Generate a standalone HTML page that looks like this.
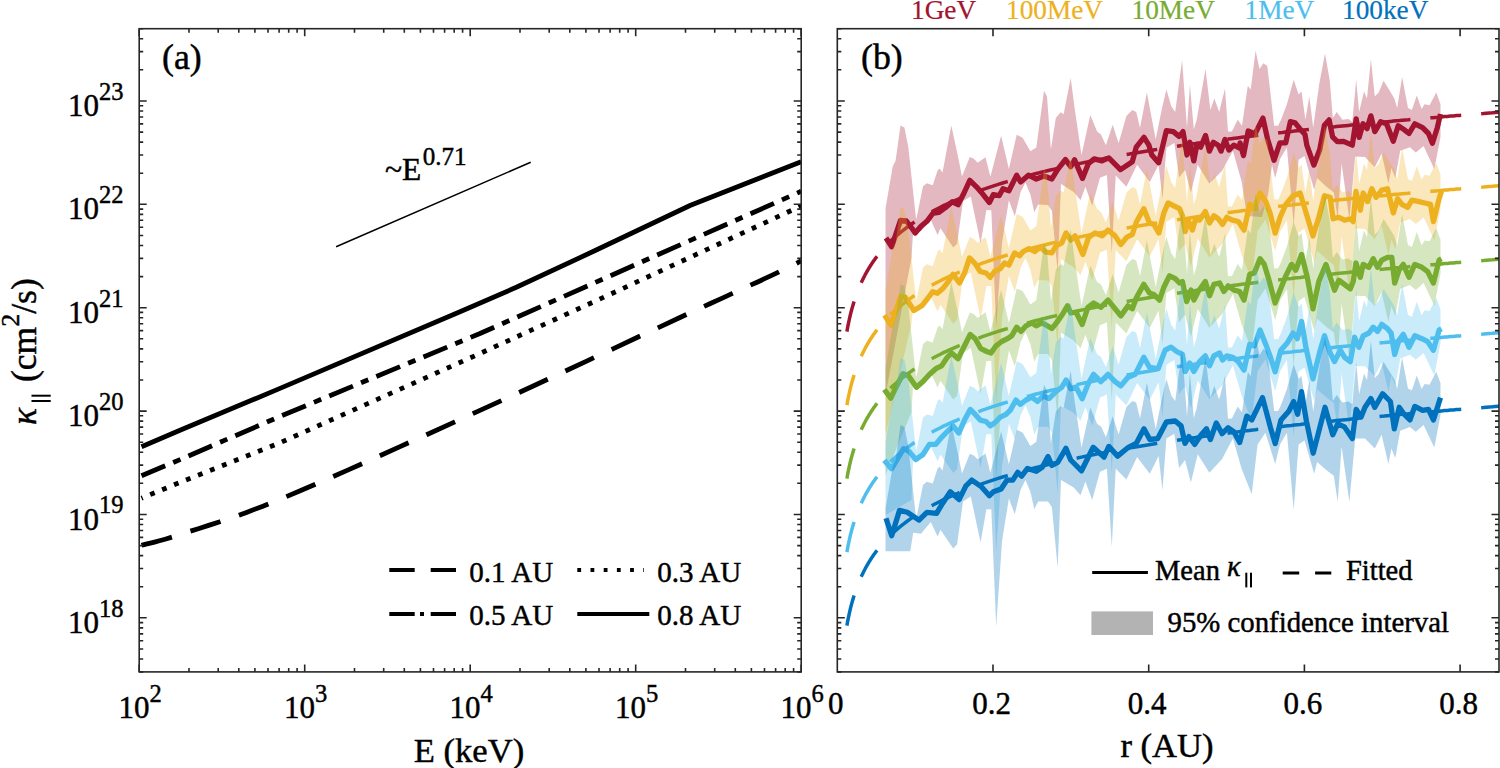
<!DOCTYPE html><html><head><meta charset="utf-8"><style>html,body{margin:0;padding:0;background:#fff;overflow:hidden}svg{display:block}text{font-family:"Liberation Serif",serif;fill:#000;stroke:#000;stroke-width:0.45px}</style></head><body>
<svg width="1500" height="768" viewBox="0 0 1500 768">
<defs><clipPath id="ca"><rect x="139.2" y="28.7" width="662" height="643.2"/></clipPath>
<clipPath id="cb"><rect x="837.3" y="28.7" width="661.7" height="643.2"/></clipPath></defs>
<g clip-path="url(#ca)" fill="none" stroke="#000" stroke-width="4.8">
<polyline points="141.5,446.7 180,430.3 280,388.4 460,311.8 516.9,287 593.6,251.3 690,205.5 801.2,161.7"/>
<polyline points="141.5,475.8 180,459.6 280,416.4 480,333.5 801.2,191.3" stroke-dasharray="25.7 8.7 7.9 8.7"/>
<polyline points="141.5,498.2 180,482.4 280,442.8 480,353.5 609.8,294.5 691.8,256.5 801.2,205.9" stroke-dasharray="4.8 8.1" stroke-dashoffset="3.5"/>
<polyline points="141.5,545.3 144,544.6 147,543.9 150.4,543.1 154.5,542.1 159.4,540.8 165.1,539.2 172,537.1 180,534.5 188.9,531.6 198.3,528.7 208.6,525.4 219.9,521.8 232.5,517.5 246.5,512.4 262.3,506.4 280,499.3 300.2,490.8 323,480.9 347.7,470.1 373.8,458.5 400.6,446.4 427.7,434.2 454.3,422.1 480,410.4 505.8,398.6 532.7,386.2 560.1,373.5 587.2,360.8 613.5,348.6 638.1,337 660.5,326.6 680,317.5 696.4,309.9 710.4,303.5 722.3,298.1 732.5,293.4 741.5,289.3 749.5,285.6 757.1,282.2 764.6,278.7 771.7,275.4 778,272.4 783.4,269.7 788.2,267.4 792.3,265.4 795.7,263.7 798.7,262.2 801.2,261" stroke-dasharray="31.5 19.5"/>
</g>
<line x1="336.1" y1="246.8" x2="530.7" y2="162.2" stroke="#000" stroke-width="1.5"/>
<g clip-path="url(#cb)">
<polygon points="885.5,208.6 892.7,166.6 895.6,160.8 900.5,125.6 904.4,127.6 908.3,147.1 916.1,219.4 917.1,215.5 923,186.2 926.9,183.2 932.7,185.2 937.6,170.5 939.6,168.6 942.5,172.5 951.3,125.6 958.1,156.9 962,176.4 969.8,156.9 973.8,158.8 977.7,162.7 985.5,157.2 990.4,176.7 1001.1,135.7 1008.9,168.9 1016.7,134.7 1022.6,137.7 1030.4,151.3 1036.3,147.4 1044,90.8 1047,96.6 1050.9,149.4 1055.8,118.1 1060.7,112.3 1063.6,114.2 1070.7,77.9 1074.6,108.1 1081.5,155 1090.3,115 1097.1,131.6 1101,134.5 1105.9,145.2 1112.7,124.7 1118.6,143.3 1126.4,115.9 1132.3,110.1 1136.2,112 1140,127.7 1146.9,92.5 1155.7,139.4 1161.6,110.1 1166.4,89.6 1171.3,106.2 1175.2,112 1182.1,60.3 1187,127.7 1189.9,84.7 1193.8,129.6 1196.7,119.8 1205.5,69.1 1210.4,110.1 1214.3,98.4 1219.2,112 1225,88.6 1228,131.6 1231.9,131.6 1237.7,119.8 1242,125.7 1247.8,85.7 1250.7,89.6 1255.6,50.5 1259.5,69.1 1263.4,63.2 1267.3,66.1 1274.2,125.7 1278.1,125.7 1281,119.8 1286.9,104.2 1293.7,79.8 1298.6,94.5 1301.5,91.5 1305.4,119.8 1309.3,96.4 1313.2,127.7 1319.1,84.7 1325,53.4 1329.8,80.8 1332.8,117.9 1336.7,112 1342.5,119.8 1348.4,118.9 1352.3,121.8 1356.2,79.8 1359.1,112 1364,91.5 1367,98.4 1370.9,59.3 1374.8,96.4 1378.7,92.5 1383.6,80.8 1388.4,88.6 1394.3,98.4 1397.2,108.1 1402.1,76.9 1408,108.1 1411.9,110.1 1416.8,95.4 1421.6,109.1 1424.6,104.2 1429.5,105.2 1436.3,92.5 1440.5,104.2 1440.5,137.1 1434.3,169 1423.6,146 1415.8,152.5 1409.9,147.3 1400.2,150.8 1395.3,177.9 1391.4,168 1388.4,183.4 1381.6,153.8 1374.8,167.2 1365,156.9 1355.2,156.5 1349.4,219.7 1341.6,163.6 1337.7,219.2 1333.8,192.6 1325.9,186.3 1317.1,178.1 1314.2,189.7 1304.5,156 1298.6,159.7 1293.7,224.9 1286.9,147.4 1280,158.9 1275.2,178.1 1272,165 1268,195 1262,217 1247,216 1243,190 1241.6,181.4 1232.9,150.8 1222.1,170.8 1209.4,183.8 1197.7,164.7 1190.9,192.7 1185,169.9 1179.1,177.5 1174.3,143.1 1166.4,147.7 1162.5,199.2 1158.6,164.8 1149.8,182 1137.1,164.8 1126.4,186.8 1115.7,175.5 1111.8,253.5 1106.9,175.1 1100,177.7 1092.2,205.7 1085.4,186.8 1080.5,200.2 1073.7,192.1 1061,184.1 1057.7,271.9 1051.9,211 1048,205 1038.2,204.6 1034.3,212.2 1030.4,194.5 1025.5,182.5 1020.6,192 1014.8,216.2 1008.9,200.3 1002.1,241.9 996.2,327.6 991.3,210.2 986.4,209.9 980.6,242.9 970.8,196.5 963,201 957.1,243.8 953.2,247.5 940.5,228.3 937.6,235 930.8,220 921,231.3 913.2,229.9 911.5,258 885.5,395" fill="#A2142F" fill-opacity="0.3"/>
<polyline points="886,238 891.7,246.7 900.5,220.4 906.4,221 911.2,227.2 915.2,233 921,226.2 926.9,221.3 932.7,213.5 938.6,212.5 945.4,207.7 952.3,201.8 958.1,204.7 964,193 969.8,180.3 976.7,187.1 981.6,192.7 989.4,202.5 993.3,194.7 999.1,195.7 1003,188.8 1008.9,190.8 1016.7,175.2 1020.6,182 1028.4,175.2 1036.3,179 1044,176.1 1051.9,179 1057.7,169.3 1065.5,159.5 1070.7,166.7 1074.6,159.9 1082.5,178.4 1088.3,163.8 1094.2,158.9 1102,160.9 1108.8,157.9 1120.5,169.6 1132.3,161.8 1136.2,147.2 1144,137.4 1148.9,145.2 1151.8,155 1158.6,162.8 1166.4,130.6 1173.3,131.6 1179.1,136.4 1183,131.6 1185,143.3 1187,155 1189.9,142.3 1193.8,160.9 1196.7,145.2 1200.6,147.2 1205.5,135.5 1209.4,151.1 1213.3,142.3 1218.2,145.2 1221.1,151.1 1225,139.4 1228.9,150.1 1233.8,145.2 1239.7,148.2 1240,142.8 1243.5,155.6 1248.2,131 1255,134 1262.9,118.1 1267.6,139.2 1274,160.3 1279.9,142.8 1285.7,142.8 1290.4,121.7 1295.1,122.8 1299.8,128.7 1305,134.5 1306.8,145.1 1313.9,165 1319.7,149.8 1324.4,125.2 1329.1,119.9 1332.6,136.9 1337.3,141.6 1343.5,141.3 1352.3,145.2 1356.2,118.9 1359.1,137.4 1363,123.8 1367,128.6 1370.9,115.9 1374.8,131.6 1380.6,121.8 1386.5,123.8 1393.3,141.3 1398.2,125.7 1404.1,129.6 1409,133.5 1414.8,123.8 1422.6,127.7 1428.5,133.5 1432.4,143.3 1437.3,127.7 1440.5,114" fill="none" stroke="#A2142F" stroke-width="5.3" stroke-linejoin="round"/>
<polyline points="846.9,331.6 847.4,328.8 847.9,326.2 848.4,323.7 848.9,321.3 849.4,319 849.9,316.8 850.4,314.7 850.9,312.7 851.4,310.8 851.9,308.9 852.4,307.1 852.9,305.4 853.4,303.7 853.9,302.1 854.4,300.5 854.9,299 855.4,297.5 855.9,296 856.4,294.6 856.9,293.3 857.4,291.9 857.9,290.6 858.4,289.4 858.9,288.1 859.4,286.9 859.9,285.8 860.4,284.6 860.9,283.5 861.4,282.4 861.9,281.3 862.4,280.3 862.9,279.2 863.4,278.2 863.9,277.2 864.4,276.2 864.9,275.3 865.4,274.3 865.9,273.4 866.4,272.5 866.9,271.6 867.4,270.8 867.9,269.9 868.4,269.1 868.9,268.2 869.4,267.4 869.9,266.6 870.4,265.8 870.9,265 871.4,264.3 871.9,263.5 872.4,262.8 872.9,262 873.4,261.3 873.9,260.6 874.4,259.9 874.9,259.2 875.4,258.5 875.9,257.8 876.4,257.2 876.9,256.5 877.4,255.9 877.9,255.2 878.4,254.6 878.9,253.9 879.4,253.3 879.9,252.7 880.4,252.1 883.4,248.6 886.4,245.4 889.4,242.3 892.4,239.4 895.4,236.7 898.4,234.1 901.4,231.6 904.4,229.3 907.4,227 910.4,224.9 913.4,222.8 916.4,220.8 919.4,218.9 922.4,217.1 925.4,215.3 928.4,213.6 931.4,211.9 934.4,210.3 937.4,208.7 940.4,207.2 943.4,205.7 946.4,204.3 949.4,202.9 952.4,201.6 955.4,200.3 958.4,199 961.4,197.7 964.4,196.5 967.4,195.3 970.4,194.1 973.4,193 976.4,191.9 979.4,190.8 982.4,189.7 985.4,188.7 988.4,187.6 991.4,186.6 994.4,185.6 997.4,184.7 1000.4,183.7 1003.4,182.8 1006.4,181.9 1009.4,181 1012.4,180.1 1015.4,179.2 1018.4,178.4 1021.4,177.5 1024.4,176.7 1027.4,175.9 1030.4,175.1 1033.4,174.3 1036.4,173.5 1039.4,172.8 1042.4,172 1045.4,171.3 1048.4,170.5 1051.4,169.8 1054.4,169.1 1057.4,168.4 1060.4,167.7 1063.4,167 1066.4,166.4 1069.4,165.7 1072.4,165 1075.4,164.4 1078.4,163.8 1081.4,163.1 1084.4,162.5 1087.4,161.9 1090.4,161.3 1093.4,160.7 1096.4,160.1 1099.4,159.5 1102.4,158.9 1105.4,158.3 1108.4,157.8 1111.4,157.2 1114.4,156.7 1117.4,156.1 1120.4,155.6 1123.4,155 1126.4,154.5 1129.4,154 1132.4,153.4 1135.4,152.9 1138.4,152.4 1141.4,151.9 1144.4,151.4 1147.4,150.9 1150.4,150.4 1153.4,149.9 1156.4,149.5 1159.4,149 1162.4,148.5 1165.4,148 1168.4,147.6 1171.4,147.1 1174.4,146.7 1177.4,146.2 1180.4,145.7 1183.4,145.3 1186.4,144.9 1189.4,144.4 1192.4,144 1195.4,143.6 1198.4,143.1 1201.4,142.7 1204.4,142.3 1207.4,141.9 1210.4,141.5 1213.4,141.1 1216.4,140.7 1219.4,140.3 1222.4,139.9 1225.4,139.5 1228.4,139.1 1231.4,138.7 1234.4,138.3 1237.4,137.9 1240.4,137.5 1243.4,137.1 1246.4,136.8 1249.4,136.4 1252.4,136 1255.4,135.7 1258.4,135.3 1261.4,134.9 1264.4,134.6 1267.4,134.2 1270.4,133.9 1273.4,133.5 1276.4,133.2 1279.4,132.8 1282.4,132.5 1285.4,132.1 1288.4,131.8 1291.4,131.5 1294.4,131.1 1297.4,130.8 1300.4,130.5 1303.4,130.1 1306.4,129.8 1309.4,129.5 1312.4,129.1 1315.4,128.8 1318.4,128.5 1321.4,128.2 1324.4,127.9 1327.4,127.6 1330.4,127.2 1333.4,126.9 1336.4,126.6 1339.4,126.3 1342.4,126 1345.4,125.7 1348.4,125.4 1351.4,125.1 1354.4,124.8 1357.4,124.5 1360.4,124.2 1363.4,123.9 1366.4,123.7 1369.4,123.4 1372.4,123.1 1375.4,122.8 1378.4,122.5 1381.4,122.2 1384.4,122 1387.4,121.7 1390.4,121.4 1393.4,121.1 1396.4,120.8 1399.4,120.6 1402.4,120.3 1405.4,120 1408.4,119.8 1411.4,119.5 1414.4,119.2 1417.4,119 1420.4,118.7 1423.4,118.4 1426.4,118.2 1429.4,117.9 1432.4,117.7 1435.4,117.4 1438.4,117.2 1441.4,116.9 1444.4,116.6 1447.4,116.4 1450.4,116.1 1453.4,115.9 1456.4,115.6 1459.4,115.4 1462.4,115.2 1465.4,114.9 1468.4,114.7 1471.4,114.4 1474.4,114.2 1477.4,113.9 1480.4,113.7 1483.4,113.5 1486.4,113.2 1489.4,113 1492.4,112.8 1495.4,112.5 1498.4,112.3 1501.4,112.1 1504.4,111.8" fill="none" stroke="#A2142F" stroke-width="3.5" stroke-dasharray="31 20"/>
<polygon points="885.5,290.6 892.7,248.5 895.6,242.6 900.5,207.3 904.4,209.2 908.3,228.6 916.1,300.8 917.1,296.8 923,267.4 926.9,264.3 932.7,266.2 937.6,251.4 939.6,249.5 942.5,253.3 951.3,206.2 958.1,237.4 962,256.8 969.8,237.1 973.8,238.9 977.7,242.8 985.5,237.1 990.4,256.5 1001.1,215.3 1008.9,248.3 1016.7,213.9 1022.6,216.8 1030.4,230.3 1036.3,226.2 1044,169.5 1047,175.2 1050.9,227.9 1055.8,196.5 1060.7,190.6 1063.6,192.5 1070.7,156 1074.6,186.1 1081.5,232.9 1090.3,192.7 1097.1,209.1 1101,212 1105.9,222.6 1112.7,201.9 1118.6,220.4 1126.4,192.8 1132.3,186.9 1136.2,188.7 1140,204.3 1146.9,169 1155.7,215.7 1161.6,186.3 1166.4,165.7 1171.3,182.2 1175.2,187.9 1182.1,136.1 1187,203.3 1189.9,160.3 1193.8,205.1 1196.7,195.2 1205.5,144.4 1210.4,185.3 1214.3,173.5 1219.2,187 1225,163.4 1228,206.4 1231.9,206.3 1237.7,194.4 1242,200.2 1247.8,160.1 1250.7,163.9 1255.6,124.7 1259.5,143.2 1263.4,137.2 1267.3,140.1 1274.2,199.5 1278.1,199.4 1281,193.5 1286.9,177.7 1293.7,153.2 1298.6,167.8 1301.5,164.7 1305.4,192.9 1309.3,169.5 1313.2,200.7 1319.1,157.6 1325,126.1 1329.8,153.4 1332.8,190.5 1336.7,184.5 1342.5,192.2 1348.4,191.1 1352.3,194 1356.2,151.9 1359.1,184 1364,163.4 1367,170.2 1370.9,131.1 1374.8,168.1 1378.7,164.1 1383.6,152.3 1388.4,160 1394.3,169.7 1397.2,179.3 1402.1,148 1408,179.1 1411.9,181 1416.8,166.2 1421.6,179.8 1424.6,174.8 1429.5,175.7 1436.3,162.9 1440.5,174.5 1440.5,208.4 1434.3,240.3 1423.6,217.4 1415.8,224.1 1409.9,218.9 1400.2,222.5 1395.3,249.6 1391.4,239.8 1388.4,255.3 1381.6,225.7 1374.8,239.2 1365,229 1355.2,228.6 1349.4,291.9 1341.6,236 1337.7,291.5 1333.8,265 1325.9,258.8 1317.1,250.7 1314.2,262.3 1304.5,228.7 1298.6,232.5 1293.7,297.7 1286.9,220.3 1280,231.8 1275.2,251.1 1265.4,219.5 1257.6,231 1251.7,280.6 1241.6,254.7 1232.9,224.2 1222.1,244.3 1209.4,257.4 1197.7,238.5 1190.9,266.6 1185,243.8 1179.1,251.5 1174.3,217.2 1166.4,221.8 1162.5,273.3 1158.6,239 1149.8,256.3 1137.1,239.2 1126.4,261.3 1115.7,250.1 1111.8,328.2 1106.9,249.8 1100,252.6 1092.2,280.6 1085.4,261.7 1080.5,275.2 1073.7,267.2 1061,259.3 1057.7,347.1 1051.9,286.3 1048,280.4 1038.2,280 1034.3,287.7 1030.4,270 1025.5,258 1020.6,267.7 1014.8,291.8 1008.9,276 1002.1,317.7 996.2,403.5 991.3,286.1 986.4,285.9 980.6,318.9 970.8,272.6 963,277.3 957.1,320 953.2,323.8 940.5,304.7 937.6,311.4 930.8,296.6 921,307.9 913.2,306.6 911.5,324 885.5,435" fill="#EDB120" fill-opacity="0.3"/>
<polyline points="884.6,315.2 890.9,325.3 900.7,296.4 905.3,297.2 913.9,310.5 921.8,305.8 928,298 932.7,291.7 937.4,293.3 942.8,288.6 948.3,281.6 953,274.4 959.5,283 964.5,273 969.5,257.9 974.5,262.9 980.2,271.5 986,273 990.3,277.3 994.5,271.5 1000.3,268.7 1004.6,262.9 1008.9,265.1 1014.6,252.9 1019.6,255.8 1023.2,251.5 1028.9,248.6 1034.6,251.5 1040.4,247.2 1046.1,252.2 1051.8,252.9 1056.1,245.8 1061.8,242.9 1066.1,232.9 1070.7,240.2 1075,235.9 1082.9,254.5 1088.6,237.3 1095.1,233 1102.2,235.9 1108,230.1 1115.1,235.9 1120.8,244.5 1126.6,237.3 1132.3,234.4 1136.6,221.5 1143.8,208.7 1149.5,223 1153.8,224.4 1158.8,233 1163.8,213 1168.1,202.9 1173.8,205.8 1179.5,208.7 1182.4,215.8 1185.3,231.6 1188.1,220.1 1192.4,230.1 1195.3,220.1 1199.6,220.1 1205.3,211.5 1209.6,223 1213.9,215.8 1218.2,218.7 1222.5,224.4 1226.8,217.3 1232.5,220.1 1238.3,221.5 1244,230.1 1249.7,204.4 1255,207 1260,193 1265.8,201.6 1270,213 1275.1,233.1 1280.1,217.3 1285.8,204.4 1293,195.8 1300.1,193 1304.4,207.3 1313,236 1318.8,217.3 1324.5,195.8 1330.2,197.3 1333.1,218.8 1338.8,217.3 1344.6,220.2 1350.3,218.8 1353.2,221.6 1356,191.5 1360.3,210.2 1363.2,193 1367.5,201.6 1371.8,188.7 1376.1,197.3 1381.8,190.1 1387.5,188.7 1393.3,213 1397.6,198.7 1401.9,204.4 1407.6,207.3 1411.9,200.1 1419.1,201.6 1424.8,203 1430.5,204.4 1433.4,221.6 1439.1,198.7 1441.5,191.5" fill="none" stroke="#EDB120" stroke-width="5.3" stroke-linejoin="round"/>
<polyline points="846.9,405.1 847.4,402.3 847.9,399.7 848.4,397.2 848.9,394.8 849.4,392.5 849.9,390.3 850.4,388.2 850.9,386.2 851.4,384.3 851.9,382.4 852.4,380.6 852.9,378.9 853.4,377.2 853.9,375.6 854.4,374 854.9,372.5 855.4,371 855.9,369.5 856.4,368.1 856.9,366.8 857.4,365.4 857.9,364.1 858.4,362.9 858.9,361.6 859.4,360.4 859.9,359.3 860.4,358.1 860.9,357 861.4,355.9 861.9,354.8 862.4,353.8 862.9,352.7 863.4,351.7 863.9,350.7 864.4,349.7 864.9,348.8 865.4,347.8 865.9,346.9 866.4,346 866.9,345.1 867.4,344.3 867.9,343.4 868.4,342.6 868.9,341.7 869.4,340.9 869.9,340.1 870.4,339.3 870.9,338.5 871.4,337.8 871.9,337 872.4,336.3 872.9,335.5 873.4,334.8 873.9,334.1 874.4,333.4 874.9,332.7 875.4,332 875.9,331.3 876.4,330.7 876.9,330 877.4,329.4 877.9,328.7 878.4,328.1 878.9,327.4 879.4,326.8 879.9,326.2 880.4,325.6 883.4,322.1 886.4,318.9 889.4,315.8 892.4,312.9 895.4,310.2 898.4,307.6 901.4,305.1 904.4,302.8 907.4,300.5 910.4,298.4 913.4,296.3 916.4,294.3 919.4,292.4 922.4,290.6 925.4,288.8 928.4,287.1 931.4,285.4 934.4,283.8 937.4,282.2 940.4,280.7 943.4,279.2 946.4,277.8 949.4,276.4 952.4,275.1 955.4,273.8 958.4,272.5 961.4,271.2 964.4,270 967.4,268.8 970.4,267.6 973.4,266.5 976.4,265.4 979.4,264.3 982.4,263.2 985.4,262.2 988.4,261.1 991.4,260.1 994.4,259.1 997.4,258.2 1000.4,257.2 1003.4,256.3 1006.4,255.4 1009.4,254.5 1012.4,253.6 1015.4,252.7 1018.4,251.9 1021.4,251 1024.4,250.2 1027.4,249.4 1030.4,248.6 1033.4,247.8 1036.4,247 1039.4,246.3 1042.4,245.5 1045.4,244.8 1048.4,244 1051.4,243.3 1054.4,242.6 1057.4,241.9 1060.4,241.2 1063.4,240.5 1066.4,239.9 1069.4,239.2 1072.4,238.5 1075.4,237.9 1078.4,237.3 1081.4,236.6 1084.4,236 1087.4,235.4 1090.4,234.8 1093.4,234.2 1096.4,233.6 1099.4,233 1102.4,232.4 1105.4,231.8 1108.4,231.3 1111.4,230.7 1114.4,230.2 1117.4,229.6 1120.4,229.1 1123.4,228.5 1126.4,228 1129.4,227.5 1132.4,226.9 1135.4,226.4 1138.4,225.9 1141.4,225.4 1144.4,224.9 1147.4,224.4 1150.4,223.9 1153.4,223.4 1156.4,223 1159.4,222.5 1162.4,222 1165.4,221.5 1168.4,221.1 1171.4,220.6 1174.4,220.2 1177.4,219.7 1180.4,219.2 1183.4,218.8 1186.4,218.4 1189.4,217.9 1192.4,217.5 1195.4,217.1 1198.4,216.6 1201.4,216.2 1204.4,215.8 1207.4,215.4 1210.4,215 1213.4,214.6 1216.4,214.2 1219.4,213.8 1222.4,213.4 1225.4,213 1228.4,212.6 1231.4,212.2 1234.4,211.8 1237.4,211.4 1240.4,211 1243.4,210.6 1246.4,210.3 1249.4,209.9 1252.4,209.5 1255.4,209.2 1258.4,208.8 1261.4,208.4 1264.4,208.1 1267.4,207.7 1270.4,207.4 1273.4,207 1276.4,206.7 1279.4,206.3 1282.4,206 1285.4,205.6 1288.4,205.3 1291.4,205 1294.4,204.6 1297.4,204.3 1300.4,204 1303.4,203.6 1306.4,203.3 1309.4,203 1312.4,202.6 1315.4,202.3 1318.4,202 1321.4,201.7 1324.4,201.4 1327.4,201.1 1330.4,200.7 1333.4,200.4 1336.4,200.1 1339.4,199.8 1342.4,199.5 1345.4,199.2 1348.4,198.9 1351.4,198.6 1354.4,198.3 1357.4,198 1360.4,197.7 1363.4,197.4 1366.4,197.2 1369.4,196.9 1372.4,196.6 1375.4,196.3 1378.4,196 1381.4,195.7 1384.4,195.5 1387.4,195.2 1390.4,194.9 1393.4,194.6 1396.4,194.3 1399.4,194.1 1402.4,193.8 1405.4,193.5 1408.4,193.3 1411.4,193 1414.4,192.7 1417.4,192.5 1420.4,192.2 1423.4,191.9 1426.4,191.7 1429.4,191.4 1432.4,191.2 1435.4,190.9 1438.4,190.7 1441.4,190.4 1444.4,190.1 1447.4,189.9 1450.4,189.6 1453.4,189.4 1456.4,189.1 1459.4,188.9 1462.4,188.7 1465.4,188.4 1468.4,188.2 1471.4,187.9 1474.4,187.7 1477.4,187.4 1480.4,187.2 1483.4,187 1486.4,186.7 1489.4,186.5 1492.4,186.3 1495.4,186 1498.4,185.8 1501.4,185.6 1504.4,185.3" fill="none" stroke="#EDB120" stroke-width="3.5" stroke-dasharray="31 20"/>
<polygon points="885.5,367.9 892.7,325.6 895.6,319.6 900.5,284.2 904.4,286.1 908.3,305.4 916.1,377.4 917.1,373.4 923,343.9 926.9,340.7 932.7,342.5 937.6,327.6 939.6,325.6 942.5,329.3 951.3,282.1 958.1,313.1 962,332.4 969.8,312.6 973.8,314.3 977.7,318 985.5,312.2 990.4,331.5 1001.1,290 1008.9,322.9 1016.7,288.4 1022.6,291.1 1030.4,304.4 1036.3,300.2 1044,243.3 1047,249 1050.9,301.6 1055.8,270.1 1060.7,264.1 1063.6,265.9 1070.7,229.3 1074.6,259.3 1081.5,305.9 1090.3,265.5 1097.1,281.9 1101,284.6 1105.9,295.1 1112.7,274.3 1118.6,292.6 1126.4,264.9 1132.3,258.9 1136.2,260.6 1140,276.1 1146.9,240.6 1155.7,287.2 1161.6,257.6 1166.4,236.9 1171.3,253.3 1175.2,258.9 1182.1,206.9 1187,274.1 1189.9,231 1193.8,275.7 1196.7,265.8 1205.5,214.7 1210.4,255.5 1214.3,243.7 1219.2,257.1 1225,233.4 1228,276.3 1231.9,276.1 1237.7,264.1 1242,269.8 1247.8,229.5 1250.7,233.3 1255.6,194 1259.5,212.4 1263.4,206.4 1267.3,209.1 1274.2,268.4 1278.1,268.2 1281,262.2 1286.9,246.4 1293.7,221.7 1298.6,236.2 1301.5,233 1305.4,261.2 1309.3,237.6 1313.2,268.8 1319.1,225.5 1325,193.9 1329.8,221.1 1332.8,258.1 1336.7,252.1 1342.5,259.6 1348.4,258.5 1352.3,261.2 1356.2,219 1359.1,251.1 1364,230.4 1367,237.2 1370.9,197.9 1374.8,234.8 1378.7,230.8 1383.6,218.9 1388.4,226.4 1394.3,236 1397.2,245.6 1402.1,214.2 1408,245.1 1411.9,246.9 1416.8,232 1421.6,245.5 1424.6,240.5 1429.5,241.3 1436.3,228.3 1440.5,239.8 1440.5,273.7 1434.3,305.8 1423.6,283.1 1415.8,289.9 1409.9,284.9 1400.2,288.7 1395.3,315.9 1391.4,306.2 1388.4,321.7 1381.6,292.3 1374.8,305.9 1365,296 1355.2,295.8 1349.4,359.2 1341.6,303.4 1337.7,359.1 1333.8,332.6 1325.9,326.6 1317.1,318.6 1314.2,330.4 1304.5,297 1298.6,300.9 1293.7,366.2 1286.9,288.9 1280,300.6 1275.2,320 1265.4,288.6 1257.6,300.3 1251.7,350 1241.6,324.3 1232.9,294 1222.1,314.3 1209.4,327.7 1197.7,309.1 1190.9,337.3 1185,314.7 1179.1,322.5 1174.3,288.2 1166.4,293 1162.5,344.6 1158.6,310.4 1149.8,327.8 1137.1,311.1 1126.4,333.4 1115.7,322.4 1111.8,400.6 1106.9,322.3 1100,325.2 1092.2,353.4 1085.4,334.7 1080.5,348.3 1073.7,340.4 1061,332.8 1057.7,420.7 1051.9,360 1048,354.1 1038.2,354 1034.3,361.7 1030.4,344.2 1025.5,332.3 1020.6,342 1014.8,366.3 1008.9,350.6 1002.1,392.4 996.2,478.4 991.3,361.1 986.4,361 980.6,394.1 970.8,348.1 963,352.9 957.1,395.8 953.2,399.6 940.5,380.8 937.6,387.6 930.8,372.9 921,384.4 913.2,383.3 911.5,412 885.5,475" fill="#77AC30" fill-opacity="0.3"/>
<polyline points="884.3,389.5 890.7,398.1 902.9,373.7 908.6,375.9 916.5,387.3 923,381.6 929.4,374.5 935.8,368.7 941.6,365.9 947.3,357.3 951.6,353 958,358.7 964.5,345.8 970.2,334.4 975.2,338.7 980.9,348.7 986.7,351.5 991,353 996,345.8 1001.7,341.5 1007.4,338.7 1011.7,335.8 1016.7,327.2 1021,331.5 1026,325.8 1031.8,322.9 1036.1,325.8 1041.8,322.9 1046.1,325.1 1051.8,328.6 1057.5,321.5 1063.3,312.9 1067.6,305.7 1070.7,313 1076,312 1082.2,324.5 1087.9,307.3 1093.6,303 1100.8,307.3 1108,300.1 1115.1,308.7 1120.8,315.9 1128,305.9 1132.3,308.7 1136.6,297.3 1143.8,284.4 1149.5,293 1153.8,294.4 1159.5,300.1 1163.8,287.3 1169.5,275.8 1175.3,278.7 1179.5,283 1182.4,281.5 1186.7,301.6 1191,290.1 1193.9,300.1 1198.2,291.5 1205.3,281.5 1209.6,295.8 1213.9,284.4 1219.6,283 1223.9,291.5 1228.2,285.8 1234,290.1 1239.7,291.5 1244,300.1 1249.7,274.4 1254.3,273 1260,258.7 1264.3,264.4 1268.6,278.8 1275.1,303.1 1280.1,290.2 1285.8,275.9 1291.5,264.4 1295.8,270.2 1301.6,254.4 1307.3,277.3 1313,308.9 1318.8,281.6 1325.9,264.4 1330.2,277.3 1334.5,290.2 1338.8,280.2 1344.6,284.5 1350.3,288.8 1353.2,281.6 1356,263 1360.3,277.3 1363.2,264.4 1368.9,267.3 1373.2,258.7 1377.5,267.3 1381.8,260.1 1387.5,257.3 1391.8,257.3 1394.7,283.1 1399,270.2 1403.3,264.4 1409,277.3 1414.8,264.4 1421.9,267.3 1427.7,271.6 1433.4,283.1 1439.1,260.1 1441.5,258.7" fill="none" stroke="#77AC30" stroke-width="5.3" stroke-linejoin="round"/>
<polyline points="846.9,478.6 847.4,475.8 847.9,473.2 848.4,470.7 848.9,468.3 849.4,466 849.9,463.8 850.4,461.7 850.9,459.7 851.4,457.8 851.9,455.9 852.4,454.1 852.9,452.4 853.4,450.7 853.9,449.1 854.4,447.5 854.9,446 855.4,444.5 855.9,443 856.4,441.6 856.9,440.3 857.4,438.9 857.9,437.6 858.4,436.4 858.9,435.1 859.4,433.9 859.9,432.8 860.4,431.6 860.9,430.5 861.4,429.4 861.9,428.3 862.4,427.3 862.9,426.2 863.4,425.2 863.9,424.2 864.4,423.2 864.9,422.3 865.4,421.3 865.9,420.4 866.4,419.5 866.9,418.6 867.4,417.8 867.9,416.9 868.4,416.1 868.9,415.2 869.4,414.4 869.9,413.6 870.4,412.8 870.9,412 871.4,411.3 871.9,410.5 872.4,409.8 872.9,409 873.4,408.3 873.9,407.6 874.4,406.9 874.9,406.2 875.4,405.5 875.9,404.8 876.4,404.2 876.9,403.5 877.4,402.9 877.9,402.2 878.4,401.6 878.9,400.9 879.4,400.3 879.9,399.7 880.4,399.1 883.4,395.6 886.4,392.4 889.4,389.3 892.4,386.4 895.4,383.7 898.4,381.1 901.4,378.6 904.4,376.3 907.4,374 910.4,371.9 913.4,369.8 916.4,367.8 919.4,365.9 922.4,364.1 925.4,362.3 928.4,360.6 931.4,358.9 934.4,357.3 937.4,355.7 940.4,354.2 943.4,352.7 946.4,351.3 949.4,349.9 952.4,348.6 955.4,347.3 958.4,346 961.4,344.7 964.4,343.5 967.4,342.3 970.4,341.1 973.4,340 976.4,338.9 979.4,337.8 982.4,336.7 985.4,335.7 988.4,334.6 991.4,333.6 994.4,332.6 997.4,331.7 1000.4,330.7 1003.4,329.8 1006.4,328.9 1009.4,328 1012.4,327.1 1015.4,326.2 1018.4,325.4 1021.4,324.5 1024.4,323.7 1027.4,322.9 1030.4,322.1 1033.4,321.3 1036.4,320.5 1039.4,319.8 1042.4,319 1045.4,318.3 1048.4,317.5 1051.4,316.8 1054.4,316.1 1057.4,315.4 1060.4,314.7 1063.4,314 1066.4,313.4 1069.4,312.7 1072.4,312 1075.4,311.4 1078.4,310.8 1081.4,310.1 1084.4,309.5 1087.4,308.9 1090.4,308.3 1093.4,307.7 1096.4,307.1 1099.4,306.5 1102.4,305.9 1105.4,305.3 1108.4,304.8 1111.4,304.2 1114.4,303.7 1117.4,303.1 1120.4,302.6 1123.4,302 1126.4,301.5 1129.4,301 1132.4,300.4 1135.4,299.9 1138.4,299.4 1141.4,298.9 1144.4,298.4 1147.4,297.9 1150.4,297.4 1153.4,296.9 1156.4,296.5 1159.4,296 1162.4,295.5 1165.4,295 1168.4,294.6 1171.4,294.1 1174.4,293.7 1177.4,293.2 1180.4,292.7 1183.4,292.3 1186.4,291.9 1189.4,291.4 1192.4,291 1195.4,290.6 1198.4,290.1 1201.4,289.7 1204.4,289.3 1207.4,288.9 1210.4,288.5 1213.4,288.1 1216.4,287.7 1219.4,287.3 1222.4,286.9 1225.4,286.5 1228.4,286.1 1231.4,285.7 1234.4,285.3 1237.4,284.9 1240.4,284.5 1243.4,284.1 1246.4,283.8 1249.4,283.4 1252.4,283 1255.4,282.7 1258.4,282.3 1261.4,281.9 1264.4,281.6 1267.4,281.2 1270.4,280.9 1273.4,280.5 1276.4,280.2 1279.4,279.8 1282.4,279.5 1285.4,279.1 1288.4,278.8 1291.4,278.5 1294.4,278.1 1297.4,277.8 1300.4,277.5 1303.4,277.1 1306.4,276.8 1309.4,276.5 1312.4,276.1 1315.4,275.8 1318.4,275.5 1321.4,275.2 1324.4,274.9 1327.4,274.6 1330.4,274.2 1333.4,273.9 1336.4,273.6 1339.4,273.3 1342.4,273 1345.4,272.7 1348.4,272.4 1351.4,272.1 1354.4,271.8 1357.4,271.5 1360.4,271.2 1363.4,270.9 1366.4,270.7 1369.4,270.4 1372.4,270.1 1375.4,269.8 1378.4,269.5 1381.4,269.2 1384.4,269 1387.4,268.7 1390.4,268.4 1393.4,268.1 1396.4,267.8 1399.4,267.6 1402.4,267.3 1405.4,267 1408.4,266.8 1411.4,266.5 1414.4,266.2 1417.4,266 1420.4,265.7 1423.4,265.4 1426.4,265.2 1429.4,264.9 1432.4,264.7 1435.4,264.4 1438.4,264.2 1441.4,263.9 1444.4,263.6 1447.4,263.4 1450.4,263.1 1453.4,262.9 1456.4,262.6 1459.4,262.4 1462.4,262.2 1465.4,261.9 1468.4,261.7 1471.4,261.4 1474.4,261.2 1477.4,260.9 1480.4,260.7 1483.4,260.5 1486.4,260.2 1489.4,260 1492.4,259.8 1495.4,259.5 1498.4,259.3 1501.4,259.1 1504.4,258.8" fill="none" stroke="#77AC30" stroke-width="3.5" stroke-dasharray="31 20"/>
<polygon points="885.5,441.9 892.7,399.5 895.6,393.6 900.5,358.1 904.4,359.9 908.3,379.2 916.1,451.1 917.1,447.2 923,417.6 926.9,414.4 932.7,416.1 937.6,401.1 939.6,399.1 942.5,402.9 951.3,355.5 958.1,386.5 962,405.8 969.8,385.9 973.8,387.6 977.7,391.3 985.5,385.4 990.4,404.7 1001.1,363.1 1008.9,395.9 1016.7,361.3 1022.6,364 1030.4,377.2 1036.3,373 1044,316.1 1047,321.7 1050.9,374.3 1055.8,342.8 1060.7,336.7 1063.6,338.5 1070.7,301.8 1074.6,331.8 1081.5,378.4 1090.3,337.9 1097.1,354.2 1101,356.9 1105.9,367.3 1112.7,346.5 1118.6,364.8 1126.4,337 1132.3,330.9 1136.2,332.6 1140,348.1 1146.9,312.6 1155.7,359 1161.6,329.4 1166.4,308.7 1171.3,325 1175.2,330.6 1182.1,278.6 1187,345.7 1189.9,302.6 1193.8,347.3 1196.7,337.3 1205.5,286.2 1210.4,327 1214.3,315.1 1219.2,328.4 1225,304.7 1228,347.6 1231.9,347.4 1237.7,335.3 1242,341 1247.8,300.7 1250.7,304.4 1255.6,265.1 1259.5,283.5 1263.4,277.4 1267.3,280.1 1274.2,339.3 1278.1,339.1 1281,333.1 1286.9,317.2 1293.7,292.4 1298.6,306.9 1301.5,303.8 1305.4,331.9 1309.3,308.3 1313.2,339.4 1319.1,296.1 1325,264.5 1329.8,291.6 1332.8,328.6 1336.7,322.5 1342.5,330 1348.4,328.8 1352.3,331.5 1356.2,289.3 1359.1,321.3 1364,300.6 1367,307.3 1370.9,268 1374.8,304.9 1378.7,300.9 1383.6,288.9 1388.4,296.5 1394.3,306 1397.2,315.5 1402.1,284.1 1408,315 1411.9,316.8 1416.8,301.8 1421.6,315.3 1424.6,310.2 1429.5,311 1436.3,297.9 1440.5,309.4 1440.5,343.3 1434.3,375.4 1423.6,352.9 1415.8,359.7 1409.9,354.8 1400.2,358.6 1395.3,385.9 1391.4,376.1 1388.4,391.7 1381.6,362.4 1374.8,376 1365,366.2 1355.2,366.1 1349.4,429.6 1341.6,373.8 1337.7,429.5 1333.8,403 1325.9,397.1 1317.1,389.2 1314.2,401 1304.5,367.6 1298.6,371.6 1293.7,437 1286.9,359.7 1280,371.5 1275.2,390.9 1265.4,359.6 1257.6,371.3 1251.7,421.1 1241.6,395.5 1232.9,365.2 1222.1,385.7 1209.4,399.2 1197.7,380.6 1190.9,408.8 1185,386.3 1179.1,394.2 1174.3,359.9 1166.4,364.8 1162.5,416.4 1158.6,382.2 1149.8,399.7 1137.1,383.1 1126.4,405.5 1115.7,394.6 1111.8,472.8 1106.9,394.5 1100,397.5 1092.2,425.7 1085.4,407.1 1080.5,420.8 1073.7,412.9 1061,405.4 1057.7,493.3 1051.9,432.7 1048,426.8 1038.2,426.8 1034.3,434.5 1030.4,417 1025.5,405.2 1020.6,414.9 1014.8,439.3 1008.9,423.7 1002.1,465.5 996.2,551.5 991.3,434.2 986.4,434.2 980.6,467.4 970.8,421.4 963,426.2 957.1,469.2 953.2,473.1 940.5,454.4 937.6,461.2 930.8,446.5 921,458.1 913.2,457.1 911.5,500 885.5,515" fill="#4DBEEE" fill-opacity="0.3"/>
<polyline points="884.3,460.2 891.5,468.8 903.6,448.7 908.6,450.9 915.8,459.5 923,454.5 929.4,444.4 935.8,444.4 941.6,437.3 947.3,431.5 953,425.8 958.8,433 964.5,420.1 970.2,409.4 975.2,414.4 980.2,420.1 986,421.5 990.3,425.8 994.5,423 1000.3,417.2 1006,414.4 1010.3,410.1 1016,400 1020.3,404.3 1026,400 1031.8,397.2 1037.5,401.5 1043.2,395.8 1049,398.6 1056.1,391.5 1061.8,387.2 1066.1,380 1070.7,388.7 1076,387 1082.2,398.8 1087.9,384.4 1093.6,374.4 1100.8,381.6 1108,374.4 1115.1,381.6 1120.8,385.9 1128,377.3 1135.2,374.4 1143.8,357.2 1149.5,367.3 1158.1,368.7 1165.2,350.1 1171,347.2 1176.7,351.5 1182.4,354.4 1185.3,371.5 1189.6,363 1193.9,371.5 1199.6,361.5 1205.3,355.8 1209.6,365.8 1213.9,355.8 1219.6,352.9 1222.5,360.1 1226.8,355.8 1232.5,357.2 1238.3,361.5 1244,370.1 1249.7,344.3 1254.3,345.9 1260,330.1 1265.8,344.4 1270,355.9 1275.1,371.7 1280.8,350.2 1287.2,343 1293,333 1297.3,338.7 1301.6,321.5 1305.9,347.3 1313,378.8 1320.2,350.2 1324.5,335.8 1330.2,353 1334.5,361.6 1340.3,350.2 1344.6,357.3 1350.3,361.6 1354.6,337.3 1358.9,347.3 1363.2,335.8 1368.9,333 1373.2,327.2 1377.5,331.5 1381.8,324.4 1387.5,328.7 1391.1,333 1394.7,354.5 1399,340.1 1403.3,334.4 1409,347.3 1414.8,335.8 1421.9,338.7 1427.7,341.6 1433.4,350.2 1439.1,330.1 1441.5,328.7" fill="none" stroke="#4DBEEE" stroke-width="5.3" stroke-linejoin="round"/>
<polyline points="846.9,552.1 847.4,549.3 847.9,546.7 848.4,544.2 848.9,541.8 849.4,539.5 849.9,537.3 850.4,535.2 850.9,533.2 851.4,531.3 851.9,529.4 852.4,527.6 852.9,525.9 853.4,524.2 853.9,522.6 854.4,521 854.9,519.5 855.4,518 855.9,516.5 856.4,515.1 856.9,513.8 857.4,512.4 857.9,511.1 858.4,509.9 858.9,508.6 859.4,507.4 859.9,506.3 860.4,505.1 860.9,504 861.4,502.9 861.9,501.8 862.4,500.8 862.9,499.7 863.4,498.7 863.9,497.7 864.4,496.7 864.9,495.8 865.4,494.8 865.9,493.9 866.4,493 866.9,492.1 867.4,491.3 867.9,490.4 868.4,489.6 868.9,488.7 869.4,487.9 869.9,487.1 870.4,486.3 870.9,485.5 871.4,484.8 871.9,484 872.4,483.3 872.9,482.5 873.4,481.8 873.9,481.1 874.4,480.4 874.9,479.7 875.4,479 875.9,478.3 876.4,477.7 876.9,477 877.4,476.4 877.9,475.7 878.4,475.1 878.9,474.4 879.4,473.8 879.9,473.2 880.4,472.6 883.4,469.1 886.4,465.9 889.4,462.8 892.4,459.9 895.4,457.2 898.4,454.6 901.4,452.1 904.4,449.8 907.4,447.5 910.4,445.4 913.4,443.3 916.4,441.3 919.4,439.4 922.4,437.6 925.4,435.8 928.4,434.1 931.4,432.4 934.4,430.8 937.4,429.2 940.4,427.7 943.4,426.2 946.4,424.8 949.4,423.4 952.4,422.1 955.4,420.8 958.4,419.5 961.4,418.2 964.4,417 967.4,415.8 970.4,414.6 973.4,413.5 976.4,412.4 979.4,411.3 982.4,410.2 985.4,409.2 988.4,408.1 991.4,407.1 994.4,406.1 997.4,405.2 1000.4,404.2 1003.4,403.3 1006.4,402.4 1009.4,401.5 1012.4,400.6 1015.4,399.7 1018.4,398.9 1021.4,398 1024.4,397.2 1027.4,396.4 1030.4,395.6 1033.4,394.8 1036.4,394 1039.4,393.3 1042.4,392.5 1045.4,391.8 1048.4,391 1051.4,390.3 1054.4,389.6 1057.4,388.9 1060.4,388.2 1063.4,387.5 1066.4,386.9 1069.4,386.2 1072.4,385.5 1075.4,384.9 1078.4,384.3 1081.4,383.6 1084.4,383 1087.4,382.4 1090.4,381.8 1093.4,381.2 1096.4,380.6 1099.4,380 1102.4,379.4 1105.4,378.8 1108.4,378.3 1111.4,377.7 1114.4,377.2 1117.4,376.6 1120.4,376.1 1123.4,375.5 1126.4,375 1129.4,374.5 1132.4,373.9 1135.4,373.4 1138.4,372.9 1141.4,372.4 1144.4,371.9 1147.4,371.4 1150.4,370.9 1153.4,370.4 1156.4,370 1159.4,369.5 1162.4,369 1165.4,368.5 1168.4,368.1 1171.4,367.6 1174.4,367.2 1177.4,366.7 1180.4,366.2 1183.4,365.8 1186.4,365.4 1189.4,364.9 1192.4,364.5 1195.4,364.1 1198.4,363.6 1201.4,363.2 1204.4,362.8 1207.4,362.4 1210.4,362 1213.4,361.6 1216.4,361.2 1219.4,360.8 1222.4,360.4 1225.4,360 1228.4,359.6 1231.4,359.2 1234.4,358.8 1237.4,358.4 1240.4,358 1243.4,357.6 1246.4,357.3 1249.4,356.9 1252.4,356.5 1255.4,356.2 1258.4,355.8 1261.4,355.4 1264.4,355.1 1267.4,354.7 1270.4,354.4 1273.4,354 1276.4,353.7 1279.4,353.3 1282.4,353 1285.4,352.6 1288.4,352.3 1291.4,352 1294.4,351.6 1297.4,351.3 1300.4,351 1303.4,350.6 1306.4,350.3 1309.4,350 1312.4,349.6 1315.4,349.3 1318.4,349 1321.4,348.7 1324.4,348.4 1327.4,348.1 1330.4,347.7 1333.4,347.4 1336.4,347.1 1339.4,346.8 1342.4,346.5 1345.4,346.2 1348.4,345.9 1351.4,345.6 1354.4,345.3 1357.4,345 1360.4,344.7 1363.4,344.4 1366.4,344.2 1369.4,343.9 1372.4,343.6 1375.4,343.3 1378.4,343 1381.4,342.7 1384.4,342.5 1387.4,342.2 1390.4,341.9 1393.4,341.6 1396.4,341.3 1399.4,341.1 1402.4,340.8 1405.4,340.5 1408.4,340.3 1411.4,340 1414.4,339.7 1417.4,339.5 1420.4,339.2 1423.4,338.9 1426.4,338.7 1429.4,338.4 1432.4,338.2 1435.4,337.9 1438.4,337.7 1441.4,337.4 1444.4,337.1 1447.4,336.9 1450.4,336.6 1453.4,336.4 1456.4,336.1 1459.4,335.9 1462.4,335.7 1465.4,335.4 1468.4,335.2 1471.4,334.9 1474.4,334.7 1477.4,334.4 1480.4,334.2 1483.4,334 1486.4,333.7 1489.4,333.5 1492.4,333.3 1495.4,333 1498.4,332.8 1501.4,332.6 1504.4,332.3" fill="none" stroke="#4DBEEE" stroke-width="3.5" stroke-dasharray="31 20"/>
<polygon points="885.5,508.7 892.7,466.4 895.6,460.5 900.5,425.1 904.4,427 908.3,446.3 916.1,518.3 917.1,514.4 923,484.9 926.9,481.7 932.7,483.5 937.6,468.6 939.6,466.6 942.5,470.4 951.3,423.2 958.1,454.2 962,473.6 969.8,453.8 973.8,455.6 977.7,459.3 985.5,453.5 990.4,472.8 1001.1,431.4 1008.9,464.3 1016.7,429.8 1022.6,432.6 1030.4,445.9 1036.3,441.8 1044,384.9 1047,390.6 1050.9,443.2 1055.8,411.8 1060.7,405.8 1063.6,407.6 1070.7,371 1074.6,401 1081.5,447.7 1090.3,407.4 1097.1,423.7 1101,426.4 1105.9,437 1112.7,416.2 1118.6,434.6 1126.4,406.9 1132.3,400.9 1136.2,402.6 1140,418.2 1146.9,382.7 1155.7,429.3 1161.6,399.8 1166.4,379.1 1171.3,395.5 1175.2,401.1 1182.1,349.2 1187,416.4 1189.9,373.3 1193.8,418 1196.7,408.1 1205.5,357.1 1210.4,397.9 1214.3,386.1 1219.2,399.5 1225,375.9 1228,418.8 1231.9,418.6 1237.7,406.6 1242,412.3 1247.8,372.1 1250.7,375.9 1255.6,336.6 1259.5,355.1 1263.4,349 1267.3,351.8 1274.2,411.1 1278.1,411 1281,405 1286.9,389.1 1293.7,364.5 1298.6,379 1301.5,375.9 1305.4,404 1309.3,380.5 1313.2,411.6 1319.1,368.4 1325,336.9 1329.8,364.1 1332.8,401.1 1336.7,395 1342.5,402.6 1348.4,401.5 1352.3,404.3 1356.2,362.1 1359.1,394.2 1364,373.5 1367,380.3 1370.9,341.1 1374.8,378 1378.7,374 1383.6,362.1 1388.4,369.7 1394.3,379.3 1397.2,388.9 1402.1,357.5 1408,388.5 1411.9,390.3 1416.8,375.4 1421.6,388.9 1424.6,383.9 1429.5,384.7 1436.3,371.8 1440.5,383.3 1440.5,415.2 1434.3,447.4 1423.6,424.9 1415.8,431.8 1409.9,426.9 1400.2,430.8 1395.3,458.1 1391.4,448.4 1388.4,464 1381.6,434.7 1374.8,448.4 1365,438.6 1355.2,438.6 1349.4,502.1 1341.6,446.4 1337.7,502.1 1333.8,475.7 1325.9,469.8 1317.1,462 1314.2,473.8 1304.5,440.5 1298.6,444.5 1293.7,509.9 1286.9,432.7 1280,444.5 1275.2,464 1265.4,432.7 1257.6,444.5 1251.7,494.3 1241.6,468.8 1232.9,438.6 1222.1,459.1 1209.4,472.7 1197.7,454.2 1190.9,482.5 1185,460 1179.1,467.9 1174.3,433.7 1166.4,438.6 1162.5,490.3 1158.6,456.1 1149.8,473.7 1137.1,457.1 1126.4,479.6 1115.7,468.8 1111.8,547 1106.9,468.8 1100,471.8 1092.2,500.1 1085.4,481.5 1080.5,495.2 1073.7,487.4 1061,480 1057.7,567.9 1051.9,507.3 1048,501.5 1038.2,501.5 1034.3,509.3 1030.4,491.8 1025.5,480 1020.6,489.8 1014.8,514.2 1008.9,498.6 1002.1,540.5 996.2,626.5 991.3,509.3 986.4,509.3 980.6,542.5 970.8,496.6 963,501.5 957.1,544.5 953.2,548.4 940.5,529.8 937.6,536.6 930.8,522 921,533.7 913.2,532.7 910.3,551.3 885.5,551.3" fill="#0072BD" fill-opacity="0.3"/>
<polyline points="886,518.2 891.7,535.7 899.5,510.4 907.3,512.3 919,520.1 926.9,512.3 936.6,513.3 942.5,503.4 950.3,491.8 959.1,499.6 965.9,485.9 971.8,480.1 981.6,486.9 989.4,495.7 993.3,491.8 1001.1,488.9 1007,480.1 1012.8,480.1 1017.7,472.3 1021.6,476.2 1027.5,468.4 1036.3,471.3 1042.1,467.4 1048,456.6 1051.9,465.4 1057.7,462.5 1065.9,448.3 1070.7,460 1081.5,470.8 1093.2,447.3 1104,457.1 1108.8,446.4 1117.6,456.1 1128.4,447.3 1136.2,443.4 1144,428.8 1149.8,439.5 1157.7,438.6 1166.4,422 1175.2,421 1181.1,425.9 1185,443.4 1188.9,436.6 1194.8,444.4 1200.6,435.6 1206.5,428.8 1210.4,439.5 1216.3,422.9 1222.1,433.7 1228,427.8 1233.8,431.7 1239.7,442.5 1246.8,416.1 1251.7,420 1262.5,397.6 1270.3,426.9 1275.2,443.5 1281,420 1288.8,411.2 1293.7,401.5 1297.6,414.2 1301.5,391.7 1306.4,421 1313.2,453.2 1325,407.3 1332.8,434.7 1337.7,423.9 1344.5,426.9 1352.3,438.6 1356.2,409.3 1361.1,417.1 1365,407.3 1370.9,398.6 1374.8,407.3 1382.6,393.7 1390.4,401.5 1394.3,428.8 1399.2,407.3 1404.1,414.2 1409.9,420 1414.8,406.4 1422.6,410.3 1428.5,409.3 1433.4,420 1440.5,397.6" fill="none" stroke="#0072BD" stroke-width="5.3" stroke-linejoin="round"/>
<polyline points="846.9,625.6 847.4,622.8 847.9,620.2 848.4,617.7 848.9,615.3 849.4,613 849.9,610.8 850.4,608.7 850.9,606.7 851.4,604.8 851.9,602.9 852.4,601.1 852.9,599.4 853.4,597.7 853.9,596.1 854.4,594.5 854.9,593 855.4,591.5 855.9,590 856.4,588.6 856.9,587.3 857.4,585.9 857.9,584.6 858.4,583.4 858.9,582.1 859.4,580.9 859.9,579.8 860.4,578.6 860.9,577.5 861.4,576.4 861.9,575.3 862.4,574.3 862.9,573.2 863.4,572.2 863.9,571.2 864.4,570.2 864.9,569.3 865.4,568.3 865.9,567.4 866.4,566.5 866.9,565.6 867.4,564.8 867.9,563.9 868.4,563.1 868.9,562.2 869.4,561.4 869.9,560.6 870.4,559.8 870.9,559 871.4,558.3 871.9,557.5 872.4,556.8 872.9,556 873.4,555.3 873.9,554.6 874.4,553.9 874.9,553.2 875.4,552.5 875.9,551.8 876.4,551.2 876.9,550.5 877.4,549.9 877.9,549.2 878.4,548.6 878.9,547.9 879.4,547.3 879.9,546.7 880.4,546.1 883.4,542.6 886.4,539.4 889.4,536.3 892.4,533.4 895.4,530.7 898.4,528.1 901.4,525.6 904.4,523.3 907.4,521 910.4,518.9 913.4,516.8 916.4,514.8 919.4,512.9 922.4,511.1 925.4,509.3 928.4,507.6 931.4,505.9 934.4,504.3 937.4,502.7 940.4,501.2 943.4,499.7 946.4,498.3 949.4,496.9 952.4,495.6 955.4,494.3 958.4,493 961.4,491.7 964.4,490.5 967.4,489.3 970.4,488.1 973.4,487 976.4,485.9 979.4,484.8 982.4,483.7 985.4,482.7 988.4,481.6 991.4,480.6 994.4,479.6 997.4,478.7 1000.4,477.7 1003.4,476.8 1006.4,475.9 1009.4,475 1012.4,474.1 1015.4,473.2 1018.4,472.4 1021.4,471.5 1024.4,470.7 1027.4,469.9 1030.4,469.1 1033.4,468.3 1036.4,467.5 1039.4,466.8 1042.4,466 1045.4,465.3 1048.4,464.5 1051.4,463.8 1054.4,463.1 1057.4,462.4 1060.4,461.7 1063.4,461 1066.4,460.4 1069.4,459.7 1072.4,459 1075.4,458.4 1078.4,457.8 1081.4,457.1 1084.4,456.5 1087.4,455.9 1090.4,455.3 1093.4,454.7 1096.4,454.1 1099.4,453.5 1102.4,452.9 1105.4,452.3 1108.4,451.8 1111.4,451.2 1114.4,450.7 1117.4,450.1 1120.4,449.6 1123.4,449 1126.4,448.5 1129.4,448 1132.4,447.4 1135.4,446.9 1138.4,446.4 1141.4,445.9 1144.4,445.4 1147.4,444.9 1150.4,444.4 1153.4,443.9 1156.4,443.5 1159.4,443 1162.4,442.5 1165.4,442 1168.4,441.6 1171.4,441.1 1174.4,440.7 1177.4,440.2 1180.4,439.7 1183.4,439.3 1186.4,438.9 1189.4,438.4 1192.4,438 1195.4,437.6 1198.4,437.1 1201.4,436.7 1204.4,436.3 1207.4,435.9 1210.4,435.5 1213.4,435.1 1216.4,434.7 1219.4,434.3 1222.4,433.9 1225.4,433.5 1228.4,433.1 1231.4,432.7 1234.4,432.3 1237.4,431.9 1240.4,431.5 1243.4,431.1 1246.4,430.8 1249.4,430.4 1252.4,430 1255.4,429.7 1258.4,429.3 1261.4,428.9 1264.4,428.6 1267.4,428.2 1270.4,427.9 1273.4,427.5 1276.4,427.2 1279.4,426.8 1282.4,426.5 1285.4,426.1 1288.4,425.8 1291.4,425.5 1294.4,425.1 1297.4,424.8 1300.4,424.5 1303.4,424.1 1306.4,423.8 1309.4,423.5 1312.4,423.1 1315.4,422.8 1318.4,422.5 1321.4,422.2 1324.4,421.9 1327.4,421.6 1330.4,421.2 1333.4,420.9 1336.4,420.6 1339.4,420.3 1342.4,420 1345.4,419.7 1348.4,419.4 1351.4,419.1 1354.4,418.8 1357.4,418.5 1360.4,418.2 1363.4,417.9 1366.4,417.7 1369.4,417.4 1372.4,417.1 1375.4,416.8 1378.4,416.5 1381.4,416.2 1384.4,416 1387.4,415.7 1390.4,415.4 1393.4,415.1 1396.4,414.8 1399.4,414.6 1402.4,414.3 1405.4,414 1408.4,413.8 1411.4,413.5 1414.4,413.2 1417.4,413 1420.4,412.7 1423.4,412.4 1426.4,412.2 1429.4,411.9 1432.4,411.7 1435.4,411.4 1438.4,411.2 1441.4,410.9 1444.4,410.6 1447.4,410.4 1450.4,410.1 1453.4,409.9 1456.4,409.6 1459.4,409.4 1462.4,409.2 1465.4,408.9 1468.4,408.7 1471.4,408.4 1474.4,408.2 1477.4,407.9 1480.4,407.7 1483.4,407.5 1486.4,407.2 1489.4,407 1492.4,406.8 1495.4,406.5 1498.4,406.3 1501.4,406.1 1504.4,405.8" fill="none" stroke="#0072BD" stroke-width="3.5" stroke-dasharray="31 20"/>
</g>
<rect x="139.2" y="28.7" width="662" height="643.2" fill="none" stroke="#262626" stroke-width="1.6"/>
<rect x="837.3" y="28.7" width="661.7" height="643.2" fill="none" stroke="#262626" stroke-width="1.6"/>
<path d="M139.2 671.9h4M801.2 671.9h-4M139.2 659h4M801.2 659h-4M139.2 649h4M801.2 649h-4M139.2 640.8h4M801.2 640.8h-4M139.2 633.9h4M801.2 633.9h-4M139.2 627.9h4M801.2 627.9h-4M139.2 622.6h4M801.2 622.6h-4M139.2 617.8h7.5M801.2 617.8h-7.5M139.2 586.7h4M801.2 586.7h-4M139.2 568.5h4M801.2 568.5h-4M139.2 555.6h4M801.2 555.6h-4M139.2 545.6h4M801.2 545.6h-4M139.2 537.4h4M801.2 537.4h-4M139.2 530.5h4M801.2 530.5h-4M139.2 524.5h4M801.2 524.5h-4M139.2 519.2h4M801.2 519.2h-4M139.2 514.5h7.5M801.2 514.5h-7.5M139.2 483.3h4M801.2 483.3h-4M139.2 465.1h4M801.2 465.1h-4M139.2 452.2h4M801.2 452.2h-4M139.2 442.2h4M801.2 442.2h-4M139.2 434h4M801.2 434h-4M139.2 427.1h4M801.2 427.1h-4M139.2 421.1h4M801.2 421.1h-4M139.2 415.8h4M801.2 415.8h-4M139.2 411.1h7.5M801.2 411.1h-7.5M139.2 380h4M801.2 380h-4M139.2 361.8h4M801.2 361.8h-4M139.2 348.9h4M801.2 348.9h-4M139.2 338.8h4M801.2 338.8h-4M139.2 330.6h4M801.2 330.6h-4M139.2 323.7h4M801.2 323.7h-4M139.2 317.7h4M801.2 317.7h-4M139.2 312.4h4M801.2 312.4h-4M139.2 307.7h7.5M801.2 307.7h-7.5M139.2 276.6h4M801.2 276.6h-4M139.2 258.4h4M801.2 258.4h-4M139.2 245.5h4M801.2 245.5h-4M139.2 235.5h4M801.2 235.5h-4M139.2 227.3h4M801.2 227.3h-4M139.2 220.3h4M801.2 220.3h-4M139.2 214.4h4M801.2 214.4h-4M139.2 209.1h4M801.2 209.1h-4M139.2 204.3h7.5M801.2 204.3h-7.5M139.2 173.2h4M801.2 173.2h-4M139.2 155h4M801.2 155h-4M139.2 142.1h4M801.2 142.1h-4M139.2 132.1h4M801.2 132.1h-4M139.2 123.9h4M801.2 123.9h-4M139.2 117h4M801.2 117h-4M139.2 111h4M801.2 111h-4M139.2 105.7h4M801.2 105.7h-4M139.2 101h7.5M801.2 101h-7.5M139.2 69.8h4M801.2 69.8h-4M139.2 51.6h4M801.2 51.6h-4M139.2 38.7h4M801.2 38.7h-4M139.2 28.7h4M801.2 28.7h-4M837.3 671.9h4M1499 671.9h-4M837.3 659h4M1499 659h-4M837.3 649h4M1499 649h-4M837.3 640.8h4M1499 640.8h-4M837.3 633.9h4M1499 633.9h-4M837.3 627.9h4M1499 627.9h-4M837.3 622.6h4M1499 622.6h-4M837.3 617.8h7.5M1499 617.8h-7.5M837.3 586.7h4M1499 586.7h-4M837.3 568.5h4M1499 568.5h-4M837.3 555.6h4M1499 555.6h-4M837.3 545.6h4M1499 545.6h-4M837.3 537.4h4M1499 537.4h-4M837.3 530.5h4M1499 530.5h-4M837.3 524.5h4M1499 524.5h-4M837.3 519.2h4M1499 519.2h-4M837.3 514.5h7.5M1499 514.5h-7.5M837.3 483.3h4M1499 483.3h-4M837.3 465.1h4M1499 465.1h-4M837.3 452.2h4M1499 452.2h-4M837.3 442.2h4M1499 442.2h-4M837.3 434h4M1499 434h-4M837.3 427.1h4M1499 427.1h-4M837.3 421.1h4M1499 421.1h-4M837.3 415.8h4M1499 415.8h-4M837.3 411.1h7.5M1499 411.1h-7.5M837.3 380h4M1499 380h-4M837.3 361.8h4M1499 361.8h-4M837.3 348.9h4M1499 348.9h-4M837.3 338.8h4M1499 338.8h-4M837.3 330.6h4M1499 330.6h-4M837.3 323.7h4M1499 323.7h-4M837.3 317.7h4M1499 317.7h-4M837.3 312.4h4M1499 312.4h-4M837.3 307.7h7.5M1499 307.7h-7.5M837.3 276.6h4M1499 276.6h-4M837.3 258.4h4M1499 258.4h-4M837.3 245.5h4M1499 245.5h-4M837.3 235.5h4M1499 235.5h-4M837.3 227.3h4M1499 227.3h-4M837.3 220.3h4M1499 220.3h-4M837.3 214.4h4M1499 214.4h-4M837.3 209.1h4M1499 209.1h-4M837.3 204.3h7.5M1499 204.3h-7.5M837.3 173.2h4M1499 173.2h-4M837.3 155h4M1499 155h-4M837.3 142.1h4M1499 142.1h-4M837.3 132.1h4M1499 132.1h-4M837.3 123.9h4M1499 123.9h-4M837.3 117h4M1499 117h-4M837.3 111h4M1499 111h-4M837.3 105.7h4M1499 105.7h-4M837.3 101h7.5M1499 101h-7.5M837.3 69.8h4M1499 69.8h-4M837.3 51.6h4M1499 51.6h-4M837.3 38.7h4M1499 38.7h-4M837.3 28.7h4M1499 28.7h-4M139.2 671.9v-7.5M139.2 28.7v7.5M189 671.9v-4M189 28.7v4M218.2 671.9v-4M218.2 28.7v4M238.8 671.9v-4M238.8 28.7v4M254.9 671.9v-4M254.9 28.7v4M268 671.9v-4M268 28.7v4M279.1 671.9v-4M279.1 28.7v4M288.7 671.9v-4M288.7 28.7v4M297.1 671.9v-4M297.1 28.7v4M304.7 671.9v-7.5M304.7 28.7v7.5M354.5 671.9v-4M354.5 28.7v4M383.7 671.9v-4M383.7 28.7v4M404.3 671.9v-4M404.3 28.7v4M420.4 671.9v-4M420.4 28.7v4M433.5 671.9v-4M433.5 28.7v4M444.6 671.9v-4M444.6 28.7v4M454.2 671.9v-4M454.2 28.7v4M462.6 671.9v-4M462.6 28.7v4M470.2 671.9v-7.5M470.2 28.7v7.5M520 671.9v-4M520 28.7v4M549.2 671.9v-4M549.2 28.7v4M569.8 671.9v-4M569.8 28.7v4M585.9 671.9v-4M585.9 28.7v4M599 671.9v-4M599 28.7v4M610.1 671.9v-4M610.1 28.7v4M619.7 671.9v-4M619.7 28.7v4M628.1 671.9v-4M628.1 28.7v4M635.7 671.9v-7.5M635.7 28.7v7.5M685.5 671.9v-4M685.5 28.7v4M714.7 671.9v-4M714.7 28.7v4M735.3 671.9v-4M735.3 28.7v4M751.4 671.9v-4M751.4 28.7v4M764.5 671.9v-4M764.5 28.7v4M775.6 671.9v-4M775.6 28.7v4M785.2 671.9v-4M785.2 28.7v4M793.6 671.9v-4M793.6 28.7v4M801.2 671.9v-7.5M801.2 28.7v7.5M993 671.9v-7.5M993 28.7v7.5M1148.7 671.9v-7.5M1148.7 28.7v7.5M1304.4 671.9v-7.5M1304.4 28.7v7.5M1460.1 671.9v-7.5M1460.1 28.7v7.5" stroke="#262626" stroke-width="1.6" fill="none"/>
<text x="123.5" y="632.9" font-size="31" text-anchor="end">10<tspan font-size="24.5" dy="-16.2">18</tspan></text>
<text x="123.5" y="529.6" font-size="31" text-anchor="end">10<tspan font-size="24.5" dy="-16.2">19</tspan></text>
<text x="123.5" y="426.2" font-size="31" text-anchor="end">10<tspan font-size="24.5" dy="-16.2">20</tspan></text>
<text x="123.5" y="322.8" font-size="31" text-anchor="end">10<tspan font-size="24.5" dy="-16.2">21</tspan></text>
<text x="123.5" y="219.4" font-size="31" text-anchor="end">10<tspan font-size="24.5" dy="-16.2">22</tspan></text>
<text x="123.5" y="116.1" font-size="31" text-anchor="end">10<tspan font-size="24.5" dy="-16.2">23</tspan></text>
<text x="140.2" y="717.5" font-size="31" text-anchor="middle">10<tspan font-size="24.5" dy="-15.7">2</tspan></text>
<text x="305.7" y="717.5" font-size="31" text-anchor="middle">10<tspan font-size="24.5" dy="-15.7">3</tspan></text>
<text x="471.2" y="717.5" font-size="31" text-anchor="middle">10<tspan font-size="24.5" dy="-15.7">4</tspan></text>
<text x="636.7" y="717.5" font-size="31" text-anchor="middle">10<tspan font-size="24.5" dy="-15.7">5</tspan></text>
<text x="802.2" y="717.5" font-size="31" text-anchor="middle">10<tspan font-size="24.5" dy="-15.7">6</tspan></text>
<text x="835.8" y="713.5" font-size="31" text-anchor="middle">0</text>
<text x="991.5" y="713.5" font-size="31" text-anchor="middle">0.2</text>
<text x="1147.2" y="713.5" font-size="31" text-anchor="middle">0.4</text>
<text x="1302.9" y="713.5" font-size="31" text-anchor="middle">0.6</text>
<text x="1458.6" y="713.5" font-size="31" text-anchor="middle">0.8</text>
<text x="469" y="761.5" font-size="34.6" text-anchor="middle">E (keV)</text>
<text x="1167" y="757" font-size="34.6" text-anchor="middle">r (AU)</text>
<g transform="translate(35.5,425) rotate(-90)"><text x="0" y="0" font-size="35.5"><tspan font-style="italic">κ</tspan><tspan x="43">(cm</tspan><tspan font-size="26" dy="-17">2</tspan><tspan dy="17">/s)</tspan></text><rect x="23" y="-4" width="2" height="19.2" fill="#000"/><rect x="28.3" y="-4" width="2" height="19.2" fill="#000"/></g>
<text x="162" y="68.8" font-size="35.8">(a)</text>
<text x="861" y="68.8" font-size="35.8">(b)</text>
<text x="385" y="180.4" font-size="31.5">~E<tspan font-size="25" dx="1.5" dy="-15">0.71</tspan></text>
<g stroke="#000" stroke-width="4" fill="none">
<path d="M389.3 570h25.4M430.7 570h25.3"/>
<path d="M577.3 570h66.7" stroke-dasharray="3.8 9.4" stroke-width="3.8"/>
<path d="M389.3 614h25.4M420 614h4M430.7 614h25.3"/>
<path d="M577.3 614h72" />
</g>
<text x="469.3" y="581.5" font-size="29">0.1 AU</text>
<text x="657.3" y="581.5" font-size="29">0.3 AU</text>
<text x="469.3" y="624.7" font-size="29">0.5 AU</text>
<text x="657.3" y="624.7" font-size="29">0.8 AU</text>
<path d="M1092.2 572.4h55.7" stroke="#000" stroke-width="3"/>
<path d="M1282.7 573h16.5M1315.1 573h16.2" stroke="#000" stroke-width="3"/>
<text x="1155" y="580" font-size="28.5">Mean <tspan font-style="italic" dy="-4">κ</tspan></text>
<rect x="1245.3" y="572.7" width="2" height="14.7"/><rect x="1250" y="572.7" width="2" height="14.7"/>
<text x="1346" y="580" font-size="28.5">Fitted</text>
<rect x="1091.4" y="611.4" width="61.6" height="23.6" fill="#b3b3b3"/>
<text x="1167.5" y="631.7" font-size="28.8">95% confidence interval</text>
<text x="911" y="19.4" font-size="27.3" style="fill:#A2142F;stroke:#A2142F;stroke-width:0.2px">1GeV</text>
<text x="1006" y="19.4" font-size="27.3" style="fill:#EDB120;stroke:#EDB120;stroke-width:0.2px">100MeV</text>
<text x="1131.5" y="19.4" font-size="27.3" style="fill:#77AC30;stroke:#77AC30;stroke-width:0.2px">10MeV</text>
<text x="1244.5" y="19.4" font-size="27.3" style="fill:#4DBEEE;stroke:#4DBEEE;stroke-width:0.2px">1MeV</text>
<text x="1342" y="19.4" font-size="27.3" style="fill:#0072BD;stroke:#0072BD;stroke-width:0.2px">100keV</text>
</svg></body></html>
